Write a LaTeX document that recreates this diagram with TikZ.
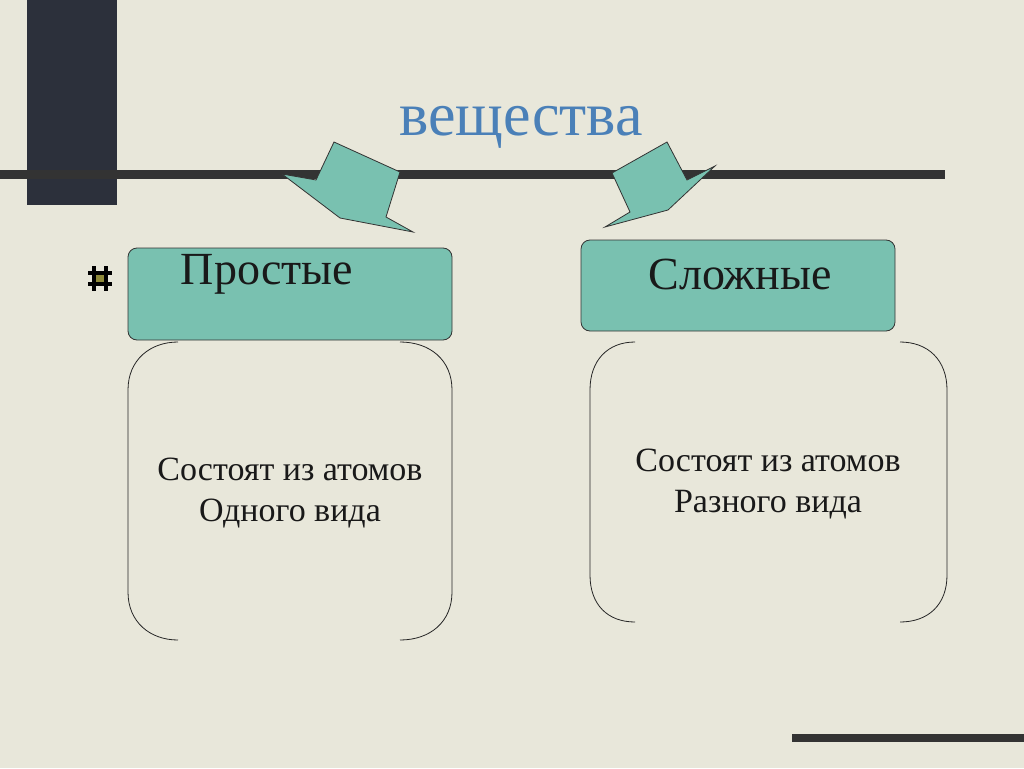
\documentclass[tikz,border=0pt]{standalone}
\usepackage{fontspec}
\setmainfont{Liberation Serif}
\begin{document}
\begin{tikzpicture}[x=1pt,y=-1pt,
  tbox/.style={draw=black!80,fill=teal1,rounded corners=9pt,line width=0.8pt},
  barr/.style={draw=black!80,fill=teal1,line width=0.8pt,line join=miter},
  brk/.style={draw=black!85,line width=0.8pt}]
\definecolor{bg}{HTML}{E8E7DA}\definecolor{teal1}{HTML}{79C1B0}
\definecolor{navy}{HTML}{2C303B}\definecolor{ttl}{HTML}{4A80B8}
\useasboundingbox (0,0) rectangle (1024,768);
\fill[bg] (0,0) rectangle (1024,768);
\fill[navy] (27,0) rectangle (117,205);
\fill[black!80] (0,170) rectangle (945,179);
\fill[black!80] (792,734) rectangle (1024,742);
\node[text=ttl,font=\fontsize{62}{62}\selectfont] (t) at (521,127) {вещества};
\draw[barr] (334,142)--(400,172)--(386,217)--(413,232)--(340,218)--(282,174)--(316,180)--cycle;
\draw[barr] (667,142)--(687,180)--(715,166)--(668,210)--(605,227)--(630,212)--(612,173)--cycle;
\draw[tbox] (128,248) rectangle (452,340);
\draw[tbox] (581,240) rectangle (895,331);
\node[text=black!90,font=\fontsize{46}{46}\selectfont] (p) at (267,274) {Простые};
\node[text=black!90,font=\fontsize{46}{46}\selectfont] (s) at (740,274) {Сложные};
\fill[olive!60!gray] (93,273) rectangle (107,284);
\draw[line width=3.5pt] (94,266)--(94,291) (106,266)--(106,291) (88,273)--(112,273) (88,284)--(112,284);
\draw[brk] (178,342) .. controls (150,342) and (128,360) .. (128,390) -- (128,592) .. controls (128,622) and (150,640) .. (178,640);
\draw[brk] (400,342) .. controls (430,342) and (452,360) .. (452,390) -- (452,592) .. controls (452,622) and (430,640) .. (400,640);
\draw[brk] (635,342) .. controls (608,342) and (590,360) .. (590,390) -- (590,575) .. controls (590,605) and (608,622) .. (635,622);
\draw[brk] (900,342) .. controls (928,342) and (947,360) .. (947,390) -- (947,575) .. controls (947,605) and (928,622) .. (900,622);
\node[text=black!90,align=center,font=\fontsize{34}{41}\selectfont] (l) at (290,493) {Состоят из атомов\\Одного вида};
\node[text=black!90,align=center,font=\fontsize{34}{41}\selectfont] (r) at (768,484) {Состоят из атомов\\Разного вида};
\end{tikzpicture}
\end{document}
